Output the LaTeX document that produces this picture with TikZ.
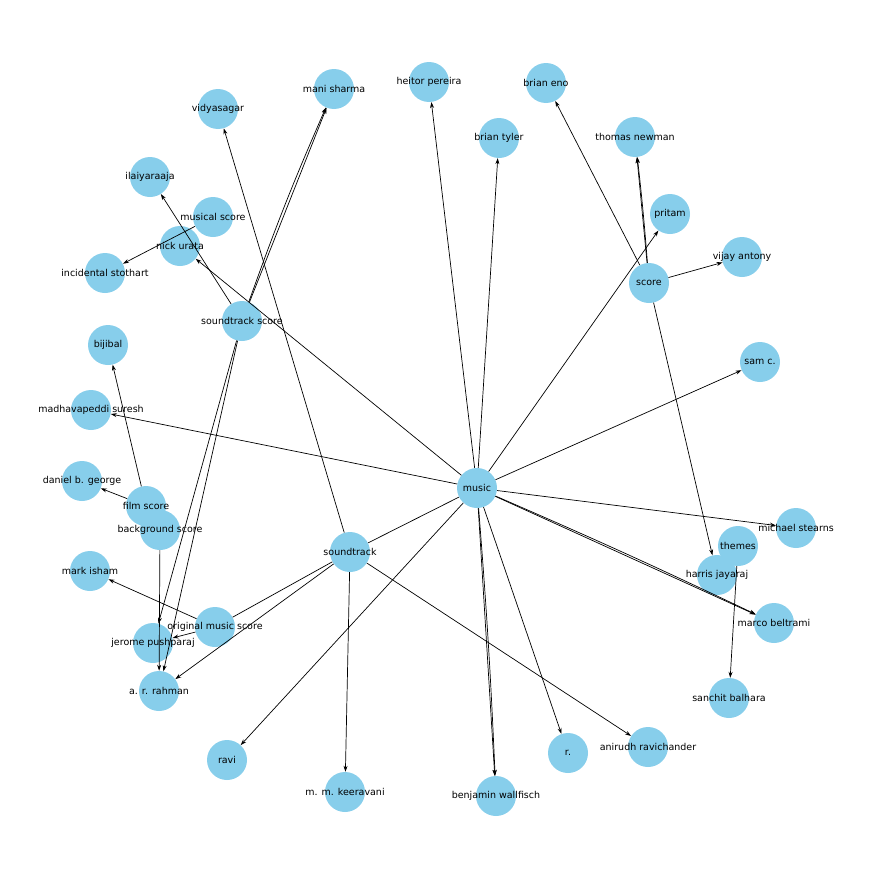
\documentclass[tikz,border=0pt]{standalone}
\usepackage{fontspec}
\setmainfont{DejaVu Sans}
\usetikzlibrary{arrows.meta}
\begin{document}
\begin{tikzpicture}[x=1pt,y=-1pt,
  nd/.style={circle,fill={rgb,255:red,135;green,206;blue,235},minimum size=40pt,inner sep=0pt},
  lb/.style={font=\fontsize{9.5pt}{10pt}\selectfont,inner sep=0pt},
  ed/.style={-{Stealth[length=6pt,width=4pt]},line width=0.7pt}]
\useasboundingbox (0,0) rectangle (878,878);
\foreach \n/\x/\y/\t in {
mu/477/488/music, hp/429/82/heitor pereira, be/546/83/brian eno, bt/499/138/brian tyler,
tn/635/137/thomas newman, ms/334/89/mani sharma, vs/218/109/vidyasagar, il/150/177/ilaiyaraaja,
msc/213/217/musical  score, nu/180/246/nick urata, is/105/273/incidental  stothart,
ss/242/321/soundtrack  score, bj/108/345/bijibal, md/91/410/madhavapeddi suresh,
dg/82/481/daniel b. george, fs/146/506/film score, bs/160/530/background score,
mi/90/571/mark isham, st/350/552/soundtrack, om/215/627/original music score,
jp/153/643/jerome pushparaj, ar/159/691/a. r. rahman, rv/227/760/ravi,
mk/345/792/m. m. keeravani, bw/496/796/benjamin wallfisch, r/568/753/r.,
an/648/747/anirudh ravichander, sb/729/698/sanchit balhara, mb/774/623/marco beltrami,
hj/717/575/harris jayaraj, th/738/546/themes, mst/796/528/michael stearns,
sc/760/362/sam c., va/742/257/vijay antony, pr/670/214/pritam, sco/649/283/score}
{ \node[nd] (\n) at (\x,\y) {}; }
\foreach \a/\b in {mu/hp,mu/bt,mu/pr,mu/sc,mu/mst,mu/mb,mu/bw,mu/r,mu/rv,mu/md,mu/nu,
sco/be,sco/tn,sco/va,sco/hj,th/sb,st/vs,st/mk,st/an,st/ar,ss/il,ss/ms,ss/jp,ss/ar,
msc/is,fs/bj,fs/dg,bs/ar,om/mi,om/jp}
{ \draw[ed] (\a) -- (\b); }
\draw[ed] (mu) to[bend left=1] (mb);
\draw[ed] (mu) to[bend left=1] (bw);
\draw[ed] (ss) to[bend left=2] (ms);
\draw[ed] (sco) to[bend right=1] (tn);
\draw[line width=0.7pt] (mu) -- (st);
\draw[line width=0.7pt] (st) -- (om);
\foreach \n/\x/\y/\t in {
mu/477/488/music, hp/429/82/heitor pereira, be/546/83/brian eno, bt/499/138/brian tyler,
tn/635/137/thomas newman, ms/334/89/mani sharma, vs/218/109/vidyasagar, il/150/177/ilaiyaraaja,
msc/213/217/musical  score, nu/180/246/nick urata, is/105/273/incidental  stothart,
ss/242/321/soundtrack  score, bj/108/345/bijibal, md/91/410/madhavapeddi suresh,
dg/82/481/daniel b. george, fs/146/506/film score, bs/160/530/background score,
mi/90/571/mark isham, st/350/552/soundtrack, om/215/627/original music score,
jp/153/643/jerome pushparaj, ar/159/691/a. r. rahman, rv/227/760/ravi,
mk/345/792/m. m. keeravani, bw/496/796/benjamin wallfisch, r/568/753/r.,
an/648/747/anirudh ravichander, sb/729/698/sanchit balhara, mb/774/623/marco beltrami,
hj/717/575/harris jayaraj, th/738/546/themes, mst/796/528/michael stearns,
sc/760/362/sam c., va/742/257/vijay antony, pr/670/214/pritam, sco/649/283/score}
{ \node[lb] (l-\n) at (\x,\y) {\t}; }
\end{tikzpicture}
\end{document}
